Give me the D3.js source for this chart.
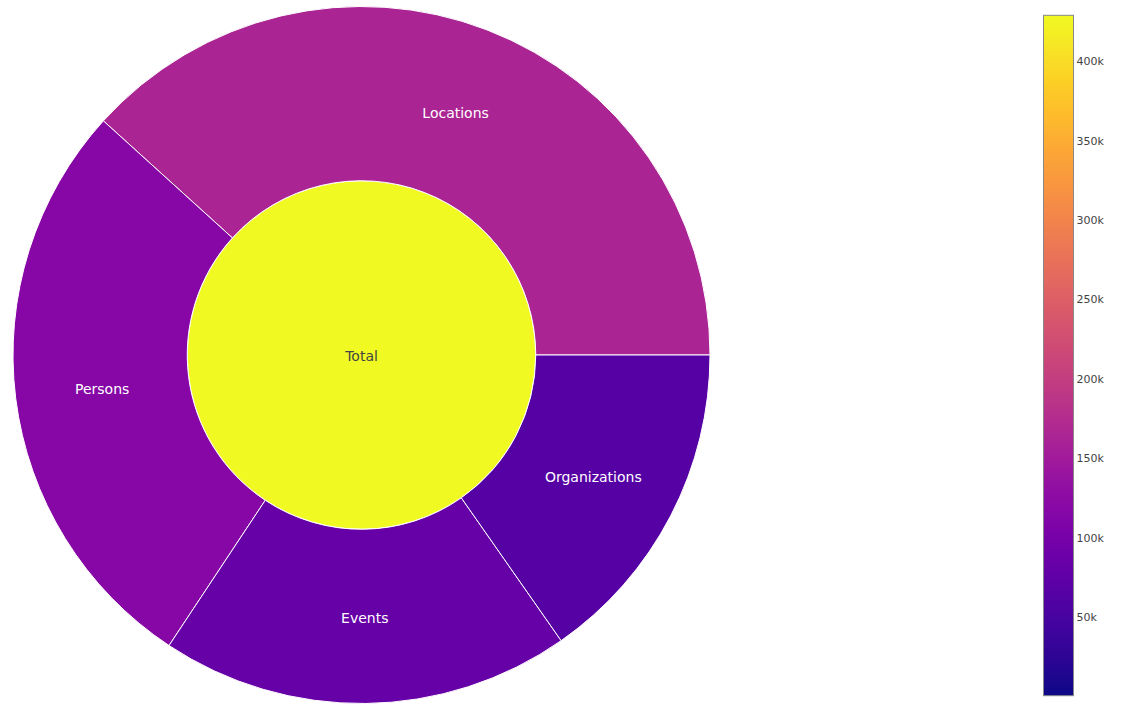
<!DOCTYPE html>
<meta charset="utf-8">
<style>
body{margin:0;background:#fff;}
svg text{font-family:"DejaVu Sans", Verdana, sans-serif;}
</style>
<svg id="chart" width="1125" height="708"></svg>
<script src="https://d3js.org/d3.v7.min.js"></script>
<script>
// sunburst: one root and four children, colour = value on plasma scale
const ROOT_LABEL = "Total"
const CATEGORIES = ["Locations", "Persons", "Events", "Organizations"]
const VALUES = [164200, 117600, 81600, 65600]
const COLOR_MIN = 400
const TICK_VALUES = [50000, 100000, 150000, 200000, 250000, 300000, 350000, 400000]

const svg = d3.select('#chart')
const cx = 361.5, cy = 355, R = 348.5

let root = d3.hierarchy({name: ROOT_LABEL, children: CATEGORIES.map((c, i) => ({name: c, value: VALUES[i]}))})
  .sum(d => d.value || 0)
d3.partition()(root)   // x0..x1 in [0,1], y0..y1 by depth

const colorMax = root.value
const color = d3.scaleSequential(d3.interpolatePlasma).domain([COLOR_MIN, colorMax])

// plotly goes counter-clockwise starting at 3 o'clock
const angle = d3.scaleLinear().domain([0, 1]).range([Math.PI / 2, Math.PI / 2 - 2 * Math.PI])
const radius = d3.scaleLinear().domain([0, 1]).range([0, R])

const arc = d3.arc()
  .startAngle(d => angle(d.x0))
  .endAngle(d => angle(d.x1))
  .innerRadius(d => radius(d.y0))
  .outerRadius(d => radius(d.y1))

const g = svg.append('g').attr('transform', `translate(${cx},${cy})`)
const nodes = root.descendants()

g.selectAll('path.slice').data(nodes).enter().append('path')
  .attr('class', 'slice')
  .attr('d', d => d.depth === 0 ? d3.arc()({innerRadius: 0, outerRadius: radius(d.y1), startAngle: 0, endAngle: 2 * Math.PI}) : arc(d))
  .attr('fill', d => color(d.value))
  .attr('stroke', '#fff')
  .attr('stroke-width', 1)

function labelPos(d) {
  if (d.depth === 0) return [0, 0]
  let a = angle((d.x0 + d.x1) / 2), r = radius((d.y0 + d.y1) / 2)
  return [r * Math.sin(a), -r * Math.cos(a)]
}

g.selectAll('text.lbl').data(nodes).enter().append('text')
  .attr('class', 'lbl')
  .attr('x', d => labelPos(d)[0])
  .attr('y', d => labelPos(d)[1] + 1.5)
  .attr('dy', '0.35em')
  .attr('text-anchor', 'middle')
  .style('font-size', '14px')
  .style('fill', d => d.depth === 0 ? '#444' : '#fff')
  .text(d => d.data.name)

// colorbar
const cbX = 1043.5, cbW = 30, cbTop = 15.3, cbBottom = 695.7
const defs = svg.append('defs')
const grad = defs.append('linearGradient').attr('id', 'plasma')
  .attr('x1', 0).attr('y1', 1).attr('x2', 0).attr('y2', 0)
d3.range(0, 1.0001, 0.05).forEach(t => {
  grad.append('stop').attr('offset', t).attr('stop-color', d3.interpolatePlasma(t))
})

svg.append('rect')
  .attr('x', cbX).attr('y', cbTop)
  .attr('width', cbW).attr('height', cbBottom - cbTop)
  .attr('fill', 'url(#plasma)')
  .attr('stroke', '#888').attr('stroke-width', 1)

const cbScale = d3.scaleLinear().domain([COLOR_MIN, colorMax]).range([cbBottom, cbTop])
const cbAxis = svg.append('g')
  .attr('transform', `translate(${cbX + cbW},0)`)
  .call(d3.axisRight(cbScale).tickValues(TICK_VALUES).tickSize(0).tickPadding(3).tickFormat(d3.format('~s')))
cbAxis.select('.domain').remove()
cbAxis.selectAll('text').style('font-size', '11px').style('fill', '#444').style('font-family', '"DejaVu Sans", Verdana, sans-serif')
</script>
